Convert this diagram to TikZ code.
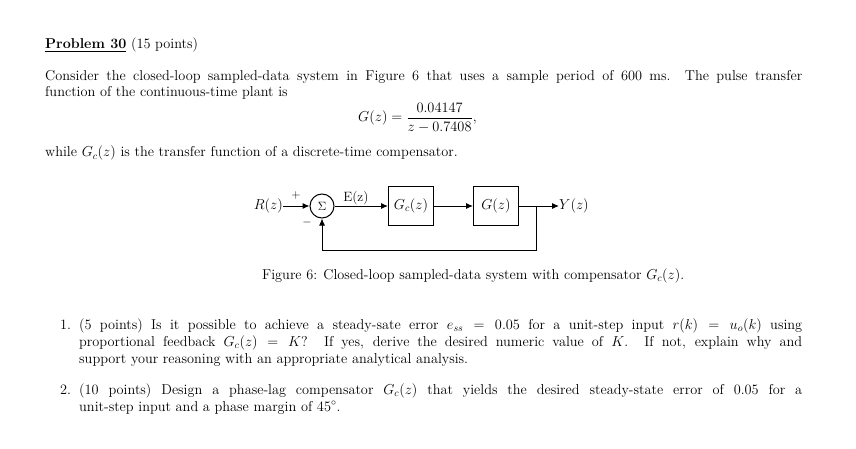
\documentclass[tikz,border=0pt]{standalone}
\usepackage{amsmath}
\usetikzlibrary{arrows.meta}
\begin{document}
\begin{tikzpicture}[x=1pt,y=-1pt,
  txt/.style={anchor=base west,inner sep=0,font=\fontsize{14.3}{17}\selectfont},
  blk/.style={draw,line width=1pt,minimum width=45pt,minimum height=38pt,inner sep=0,font=\fontsize{14.3}{17}\selectfont},
  sig/.style={line width=1pt,-{Latex[length=7pt,width=6pt]}},
  lin/.style={line width=1pt}]
\useasboundingbox (0,0) rectangle (856,449);
\node[txt] (title) at (45,49) {\textbf{\underline{Problem 30}} (15 points)};
\node[txt] (l1) at (45,81) {\makebox[757pt][s]{Consider the closed-loop sampled-data system in Figure 6 that uses a sample period of 600 ms. The pulse transfer}};
\node[txt] (l2) at (45,97) {function of the continuous-time plant is};
\node[txt] (eq) at (358,122) {$G(z)=\dfrac{0.04147}{z-0.7408},$};
\node[txt] (l3) at (45,157) {while $G_c(z)$ is the transfer function of a discrete-time compensator.};
% diagram
\node[txt,anchor=east] (R) at (283,206) {$R(z)$};
\node[draw,circle,line width=1pt,minimum size=24pt,inner sep=0,font=\fontsize{12}{14}\selectfont] (sum) at (322,206) {$\Sigma$};
\node[blk] (gc) at (411,206) {$G_c(z)$};
\node[blk] (g) at (496,206) {$G(z)$};
\coordinate (br) at (536,206);
\node[txt,anchor=west] (Y) at (559,206) {$Y(z)$};
\coordinate (fb) at (536,250);
\coordinate (fb2) at (322,250);
\draw[sig] (R) -- (sum);
\draw[sig] (sum) -- node[above,font=\fontsize{13.5}{15}\selectfont,inner sep=1pt,pos=0.4] {E(z)} (gc);
\draw[sig] (gc) -- (g);
\draw[sig] (g) -- (Y);
\draw[lin] (br) -- (fb) -- (fb2);
\draw[sig] (fb2) -- (sum);
\node[font=\fontsize{12}{12}\selectfont,inner sep=0] (plus) at (296,196) {$+$};
\node[font=\fontsize{12}{12}\selectfont,inner sep=0] (minus) at (307,222) {$-$};
\node[txt] (cap) at (262,279) {Figure 6: Closed-loop sampled-data system with compensator $G_c(z)$.};
\node[txt] (n1) at (60,329) {1.};
\node[txt] (a1) at (79,329) {\makebox[723pt][s]{(5 points) Is it possible to achieve a steady-sate error $e_{ss}=0.05$ for a unit-step input $r(k)=u_o(k)$ using}};
\node[txt] (a2) at (79,346) {\makebox[723pt][s]{proportional feedback $G_c(z)=K$? If yes, derive the desired numeric value of $K$. If not, explain why and}};
\node[txt] (a3) at (79,363) {support your reasoning with an appropriate analytical analysis.};
\node[txt] (n2) at (60,394) {2.};
\node[txt] (b1) at (79,394) {\makebox[723pt][s]{(10 points) Design a phase-lag compensator $G_c(z)$ that yields the desired steady-state error of 0.05 for a}};
\node[txt] (b2) at (79,411) {unit-step input and a phase margin of $45^\circ$.};
\end{tikzpicture}
\end{document}
